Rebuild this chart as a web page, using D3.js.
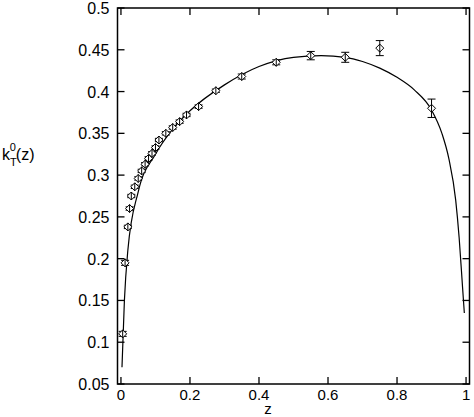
<!DOCTYPE html>
<html><head><meta charset="utf-8">
<script src="https://cdn.jsdelivr.net/npm/d3@7"></script>
<style>body{margin:0;background:#fff}text{font-family:"Liberation Sans",Arial,sans-serif}</style>
</head><body><div class="svg"></div>
<script>
const zData = [0.005,0.012,0.02,0.025,0.03,0.04,0.05,0.06,0.07,0.08,0.09,0.1,0.11,0.13,0.15,0.17,0.19,0.225,0.275,0.35,0.45,0.55,0.65,0.75,0.9];
const kData = [0.11,0.195,0.238,0.26,0.275,0.286,0.296,0.305,0.313,0.32,0.326,0.333,0.342,0.35,0.357,0.364,0.372,0.382,0.401,0.418,0.435,0.443,0.441,0.452,0.38];
const kErr  = [0.003,0.003,0.002,0.002,0.002,0.002,0.002,0.002,0.002,0.002,0.002,0.002,0.002,0.002,0.002,0.002,0.002,0.002,0.002,0.003,0.003,0.005,0.006,0.009,0.011];
const zCurve = [0.003,0.01,0.02,0.05,0.1,0.15,0.2,0.3,0.4,0.5,0.58,0.65,0.7,0.75,0.8,0.85,0.9,0.93,0.95,0.97,0.98,0.99,0.995];
const kCurve = [0.07,0.15,0.21,0.28,0.325,0.355,0.377,0.408,0.43,0.441,0.443,0.441,0.436,0.428,0.417,0.402,0.378,0.35,0.32,0.27,0.225,0.165,0.135];
const xTicks = [0,0.2,0.4,0.6,0.8,1];
const yTicks = [0.05,0.1,0.15,0.2,0.25,0.3,0.35,0.4,0.45,0.5];

const w=474, h=417, L=121, R=466, T=8, B=384;
const svg = d3.select(".svg").append("svg").attr("width",w).attr("height",h);
const x = d3.scaleLinear().domain([-0.01,1.01]).range([L-3.5,R+3.5]);
const y = d3.scaleLinear().domain([0.05,0.5]).range([B,T]);

svg.append("rect").attr("x",x(-0.01)).attr("y",T).attr("width",x(1.01)-x(-0.01)).attr("height",B-T)
  .attr("fill","none").attr("stroke","#000").attr("stroke-width",1.5);

const tl=7;
xTicks.forEach(t=>{
  svg.append("line").attr("x1",x(t)).attr("x2",x(t)).attr("y1",B).attr("y2",B-tl).attr("stroke","#000").attr("stroke-width",1.3);
  svg.append("line").attr("x1",x(t)).attr("x2",x(t)).attr("y1",T).attr("y2",T+tl).attr("stroke","#000").attr("stroke-width",1.3);
  svg.append("text").attr("x",x(t)).attr("y",B+16).attr("text-anchor","middle").attr("font-size",15).text(d3.format("")(t));
});
yTicks.forEach(t=>{
  svg.append("line").attr("x1",x(-0.01)).attr("x2",x(-0.01)+tl).attr("y1",y(t)).attr("y2",y(t)).attr("stroke","#000").attr("stroke-width",1.3);
  svg.append("line").attr("x1",x(1.01)).attr("x2",x(1.01)-tl).attr("y1",y(t)).attr("y2",y(t)).attr("stroke","#000").attr("stroke-width",1.3);
  svg.append("text").attr("x",x(-0.01)-8).attr("y",y(t)+6).attr("text-anchor","end").attr("font-size",16).text(d3.format("")(t));
});

svg.append("text").attr("x",268).attr("y",414).attr("text-anchor","middle").attr("font-size",15).text("z");
const yl = svg.append("text").attr("x",2).attr("y",160).attr("font-size",16);
yl.append("tspan").text("k");
yl.append("tspan").attr("dy",6).attr("font-size",11).text("T");
yl.append("tspan").attr("dx",-7).attr("dy",-15).attr("font-size",11).text("0");
yl.append("tspan").attr("dy",9).text("(z)");

const curve = zCurve.map((z,i)=>[z,kCurve[i]]);
svg.append("path").attr("d",d3.line().x(d=>x(d[0])).y(d=>y(d[1])).curve(d3.curveMonotoneX)(curve))
  .attr("fill","none").attr("stroke","#000").attr("stroke-width",1.2);

zData.forEach((z,i)=>{
  const cx=x(z), cy=y(kData[i]), e=kErr[i];
  const g=svg.append("g").attr("stroke","#000").attr("fill","none").attr("stroke-width",1);
  g.append("line").attr("x1",cx).attr("x2",cx).attr("y1",y(kData[i]-e)).attr("y2",y(kData[i]+e));
  [kData[i]-e,kData[i]+e].forEach(v=>g.append("line").attr("x1",cx-4).attr("x2",cx+4).attr("y1",y(v)).attr("y2",y(v)));
  g.append("path").attr("d",`M${cx-4},${cy}L${cx},${cy-4}L${cx+4},${cy}L${cx},${cy+4}Z`).attr("fill","#fff");
  g.append("line").attr("x1",cx).attr("x2",cx).attr("y1",cy-4).attr("y2",cy+4);
});
</script></body></html>
